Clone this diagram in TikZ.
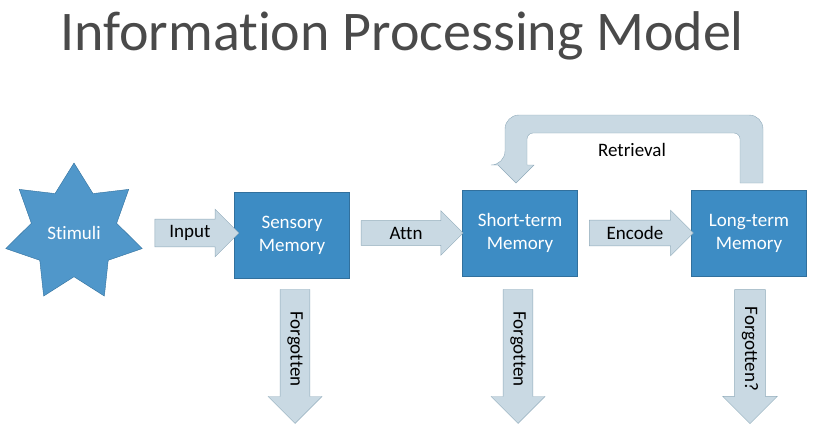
\documentclass[tikz,border=0pt]{standalone}
\usepackage{fontspec}
\setmainfont{Carlito}[Ligatures=NoCommon]
\usetikzlibrary{shapes.geometric,shapes.arrows}
\definecolor{boxblue}{HTML}{3D8CC4}
\definecolor{arrowfill}{HTML}{C9D9E3}
\definecolor{arrowline}{HTML}{8FAABA}
\tikzset{
  memory/.style={draw=boxblue!80!black, fill=boxblue, text=white, minimum width=115pt,
    minimum height=86pt, align=center, font=\fontsize{19}{23}\selectfont},
  flow/.style={single arrow, draw=arrowline, fill=arrowfill, font=\fontsize{19}{22}\selectfont,
    single arrow head extend=10pt, inner sep=6pt, minimum height=84pt, anchor=center},
  lost/.style={flow, rotate=-90, minimum height=134pt, inner sep=7pt, single arrow head extend=12pt}
}
\begin{document}
\begin{tikzpicture}[x=1pt,y=-1pt]
  \useasboundingbox (0,0) rectangle (824,428);
  \node[font=\fontsize{56}{60}\selectfont\addfontfeature{Color=4A4A4A}] (title) at (402,36) {Information Processing Model};
  % stimuli star
  \node[star, star points=7, star point ratio=1.6, minimum size=140pt, draw=boxblue!80!black,
        fill=boxblue!90!white, text=white, font=\fontsize{19}{22}\selectfont] (stimuli) at (74,233) {Stimuli};
  % memory stores
  \node[memory] (sensory) at (292,235) {Sensory\\Memory};
  \node[memory] (short) at (520,233) {Short-term\\Memory};
  \node[memory] (long) at (749,233) {Long-term\\Memory};
  % forward arrows
  \node[flow] (input) at (190,233) {Input};
  \node[flow, minimum height=102pt] (attn) at (406,233) {Attn};
  \node[flow, minimum height=104pt] (encode) at (635,233) {Encode};
  % forgotten arrows
  \node[lost] (f1) at (295,349) {Forgotten};
  \node[lost] (f2) at (518,349) {Forgotten};
  \node[lost] (f3) at (750,349) {Forgotten?};
  % retrieval loop
  \draw[draw=arrowline, fill=arrowfill, rounded corners=14pt]
    (763,183) -- (763,115) -- (505,115) -- (505,165) [sharp corners] -- (498,165)
    -- (516,183) -- (534,165) -- (527,165) [rounded corners=6pt] -- (527,133) -- (740,133) [sharp corners] -- (740,183) -- cycle;
  \node[font=\fontsize{19}{22}\selectfont] (retrieval) at (632,150) {Retrieval};
\end{tikzpicture}
\end{document}
